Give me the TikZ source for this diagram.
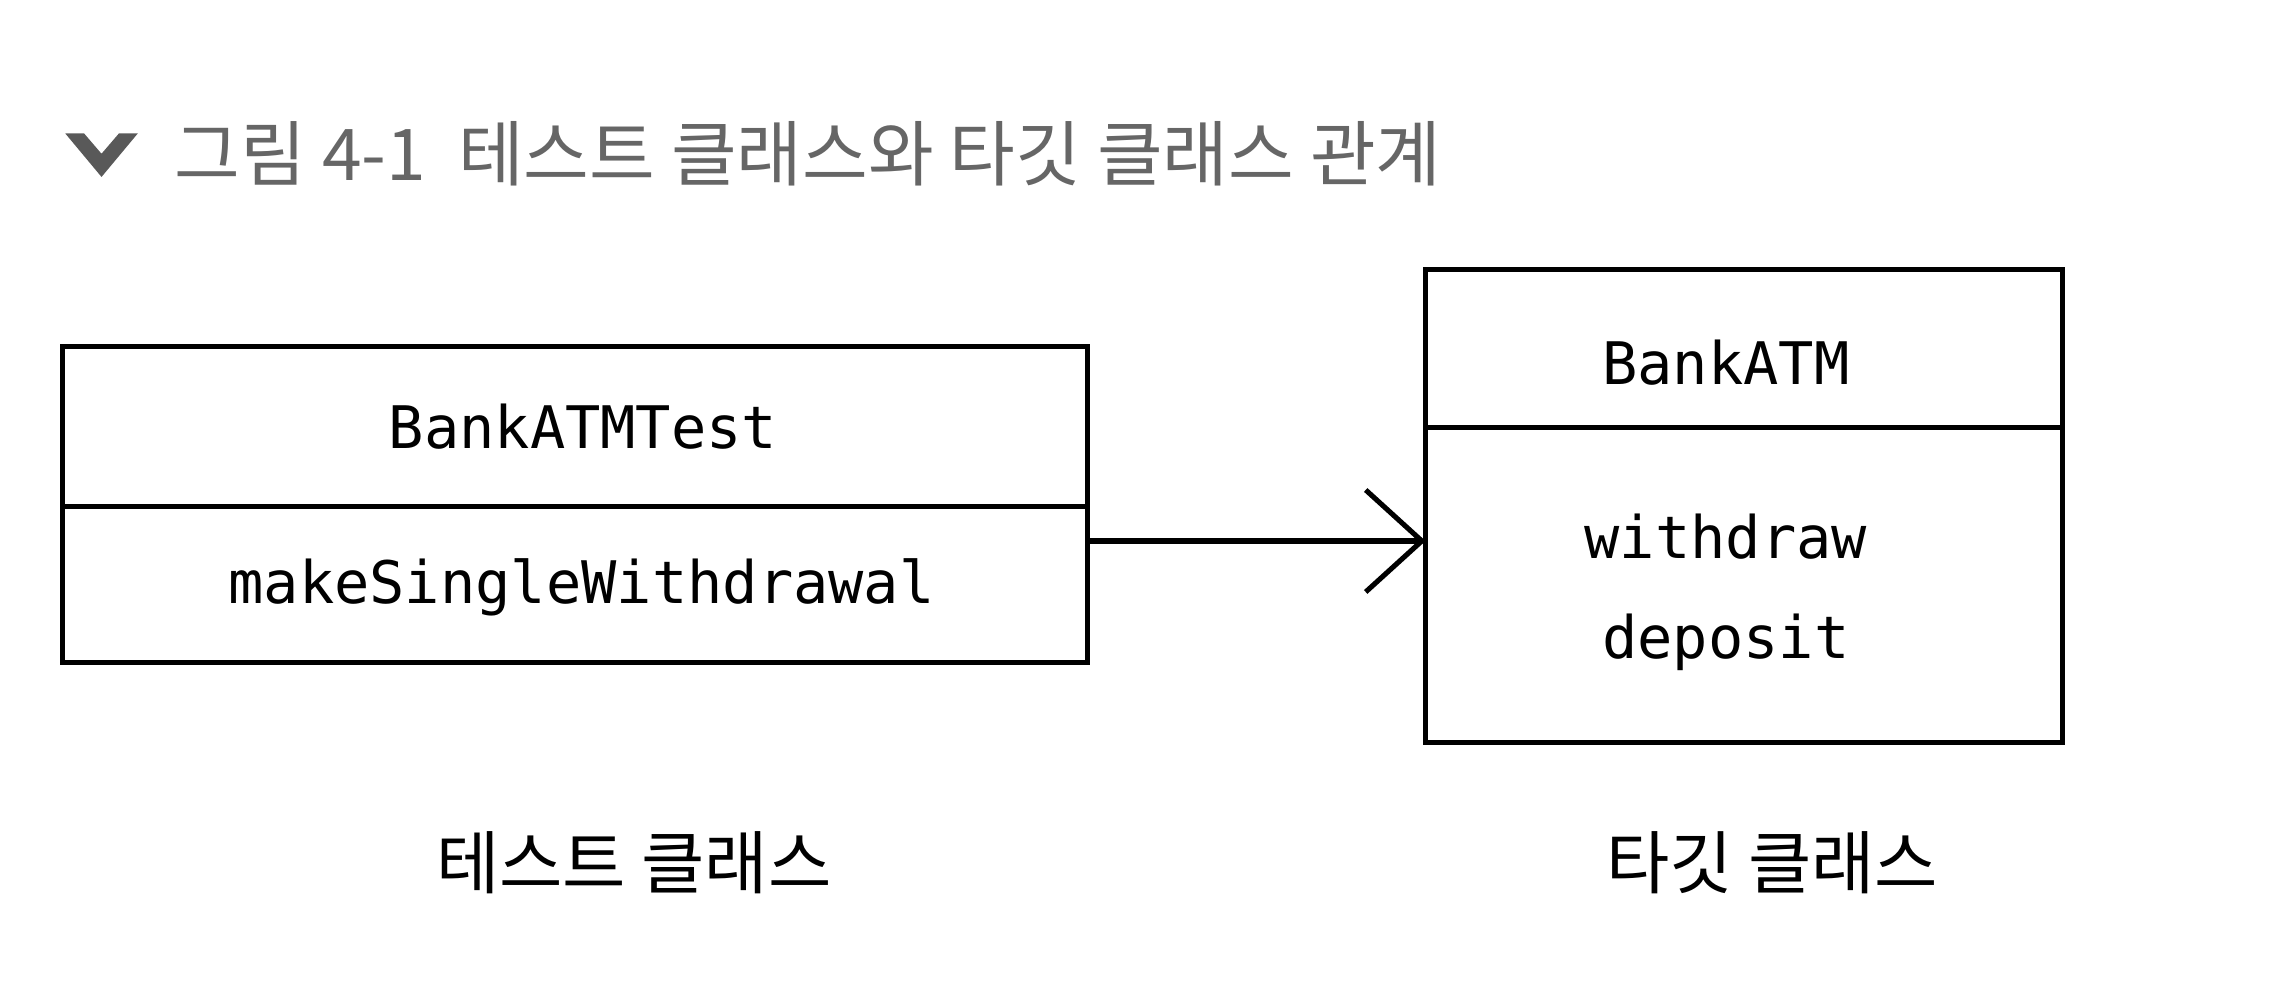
\documentclass[tikz,border=0pt]{standalone}
\usetikzlibrary{arrows.meta}
\usepackage{fontspec}
\setmonofont{DejaVu Sans Mono}
\newfontfamily\kr{Noto Sans CJK KR}
\begin{document}
\begin{tikzpicture}[x=0.01cm,y=-0.01cm,
  box/.style={draw,line width=1pt},
  code/.style={font=\ttfamily\fontsize{11.5}{13}\selectfont},
  krlab/.style={font=\kr\fontsize{13.5}{15}\selectfont}]
\useasboundingbox (0,0) rectangle (1568,690);
\fill[gray!70!black] (45,92) -- (58,92) -- (70,106) -- (82,92) -- (95,92) -- (70,122) -- cycle;
\node[krlab,font=\kr\fontsize{14}{16}\selectfont,anchor=west,text=gray!80!black] (title) at (108,106) {그림 4-1\ \ 테스트 클래스와 타깃 클래스 관계};
% left box
\draw[box] (43,239) rectangle (750,457);
\draw[box] (43,349) -- (750,349);
\node[code] (tname) at (402,294) {BankATMTest};
\node[code] (tm) at (401,405) {makeSingleWithdrawal};
\coordinate (lr) at (750,373);
% right box
\draw[box] (983,186) rectangle (1422,512);
\draw[box] (983,295) -- (1422,295);
\node[code] (rname) at (1190,250) {BankATM};
\node[code] (w) at (1190,370) {withdraw};
\node[code] (d) at (1190,443) {deposit};
\coordinate (rl) at (983,373);
\draw[line width=1pt,-{Straight Barb[length=11pt,width=20pt]}] (lr) -- (rl);
\node[krlab] (l1) at (437,595) {테스트 클래스};
\node[krlab] (l2) at (1222,595) {타깃 클래스};
\end{tikzpicture}
\end{document}
